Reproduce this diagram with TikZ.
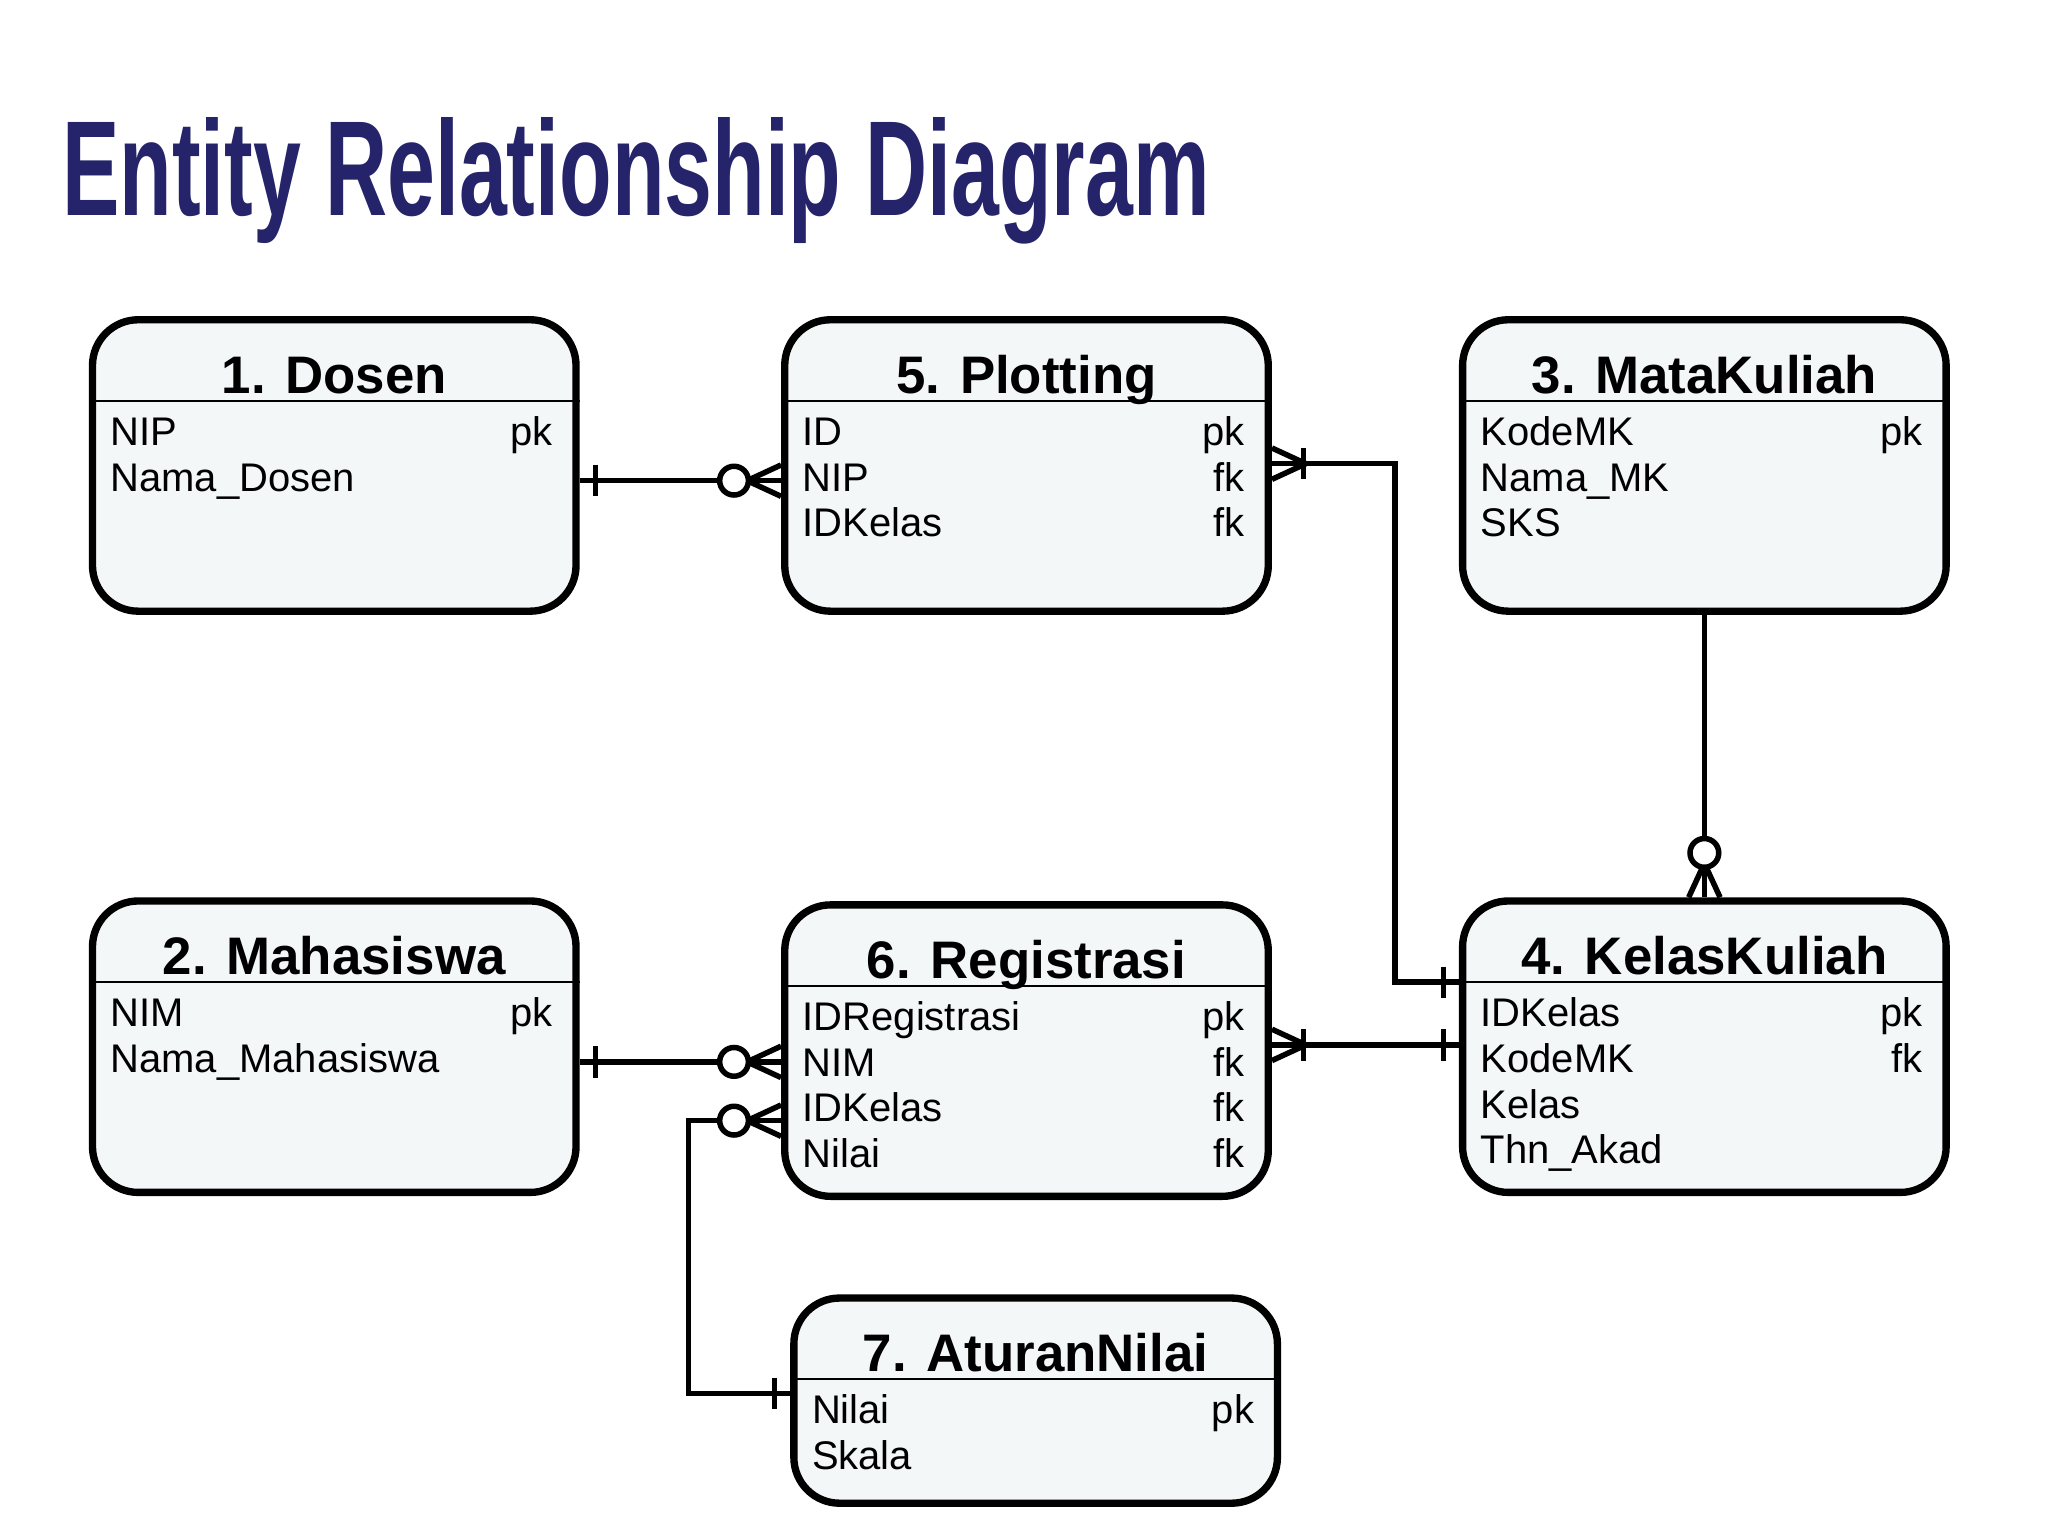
\documentclass[tikz,border=0pt]{standalone}
\usepackage{fontspec}
\setmainfont{Liberation Sans}
\usetikzlibrary{calc}
\definecolor{boxfill}{HTML}{F3F7F8}
\definecolor{navy}{HTML}{25246B}
\begin{document}
\begin{tikzpicture}[x=0.01cm,y=-0.01cm,
  box/.style={draw,line width=1.6pt,rounded corners=0.35cm,fill=boxfill,minimum width=3.7cm,anchor=north west,inner sep=0},
  con/.style={line width=1.2pt},
  ttl/.style={font=\fontsize{11.5}{12}\selectfont\bfseries,anchor=base},
  attr/.style={font=\fontsize{8.7}{10}\selectfont,anchor=base west,inner sep=0},
  akey/.style={font=\fontsize{8.7}{10}\selectfont,anchor=base east,inner sep=0}]
\useasboundingbox (0,0) rectangle (1568,1176);
\node[anchor=base west,inner sep=0,text=navy] (title) at (47,165) {\resizebox{8.78cm}{0.75cm}{\bfseries Entity Relationship Diagram}};
\newcommand\ent[5]{%
  \node[box,minimum height=#4cm] (#1) at (#2,#3) {};
  \draw[line width=0.5pt] ($(#1.north west)+(0,65)$) -- ($(#1.north east)+(0,65)$);
  \node[ttl] (#1t) at ($(#1.north)+(0,59)$) {#5};}
\newcommand\row[4]{%
  \node[attr] (#1a#2) at ($(#1.north west)+(16,99+35*#2)$) {#3};
  \node[akey] (#1k#2) at ($(#1.north east)+(-20,99+35*#2)$) {#4};}
\ent{dos}{68}{242}{2.23}{1. Dosen}
\row{dos}{0}{NIP}{pk}\row{dos}{1}{Nama\_Dosen}{}
\ent{plo}{598}{242}{2.23}{5. Plotting}
\row{plo}{0}{ID}{pk}\row{plo}{1}{NIP}{fk}\row{plo}{2}{IDKelas}{fk}
\ent{mk}{1117}{242}{2.23}{3. MataKuliah}
\row{mk}{0}{KodeMK}{pk}\row{mk}{1}{Nama\_MK}{}\row{mk}{2}{SKS}{}
\ent{mhs}{68}{687}{2.23}{2. Mahasiswa}
\row{mhs}{0}{NIM}{pk}\row{mhs}{1}{Nama\_Mahasiswa}{}
\ent{reg}{598}{690}{2.23}{6. Registrasi}
\row{reg}{0}{IDRegistrasi}{pk}\row{reg}{1}{NIM}{fk}\row{reg}{2}{IDKelas}{fk}\row{reg}{3}{Nilai}{fk}
\ent{kk}{1117}{687}{2.23}{4. KelasKuliah}
\row{kk}{0}{IDKelas}{pk}\row{kk}{1}{KodeMK}{fk}\row{kk}{2}{Kelas}{}\row{kk}{3}{Thn\_Akad}{}
\ent{an}{605}{991}{1.57}{7. AturanNilai}
\row{an}{0}{Nilai}{pk}\row{an}{1}{Skala}{}
\coordinate (c1a) at (dos.east |- 0,368); \coordinate (c1b) at (plo.west |- 0,368);
\coordinate (c2a) at (plo.east |- 0,355); \coordinate (c2m) at (1068,355); \coordinate (c2n) at (1068,752); \coordinate (c2b) at (kk.west |- 0,752);
\coordinate (c3a) at (mk.south); \coordinate (c3b) at (kk.north);
\coordinate (c4a) at (mhs.east |- 0,813); \coordinate (c4b) at (reg.west |- 0,813);
\coordinate (c5a) at (reg.east |- 0,800); \coordinate (c5b) at (kk.west |- 0,800);
\coordinate (c6a) at (reg.west |- 0,858); \coordinate (c6m) at (527,858); \coordinate (c6n) at (527,1067); \coordinate (c6b) at (an.west |- 0,1067);
\begin{scope}[con]
\draw (c1a) -- (c1b); \draw (c2a) -- (c2m) -- (c2n) -- (c2b); \draw (c3a) -- (c3b);
\draw (c4a) -- (c4b); \draw (c5a) -- (c5b); \draw (c6b) -- (c6n) -- (c6m) -- (c6a);
\draw ($(c1a)+(12,-12)$) -- ($(c1a)+(12,12)$);
\draw ($(c4a)+(12,-12)$) -- ($(c4a)+(12,12)$);
\draw ($(c2b)+(-12,-12)$) -- ($(c2b)+(-12,12)$);
\draw ($(c5b)+(-12,-12)$) -- ($(c5b)+(-12,12)$);
\draw ($(c6b)+(-12,-12)$) -- ($(c6b)+(-12,12)$);
\draw ($(c2a)+(24,-12)$) -- ($(c2a)+(24,12)$);
\draw ($(c5a)+(24,-12)$) -- ($(c5a)+(24,12)$);
\foreach \p in {c1b,c4b,c6a}{\draw ($(\p)+(-26,0)$) -- ($(\p)+(0,-12)$) ($(\p)+(-26,0)$) -- ($(\p)+(0,12)$);
  \draw[fill=white] ($(\p)+(-36,0)$) circle (0.11cm);}
\foreach \p in {c2a,c5a}{\draw ($(\p)+(26,0)$) -- ($(\p)+(0,-12)$) ($(\p)+(26,0)$) -- ($(\p)+(0,12)$);}
\draw ($(c3b)+(0,-26)$) -- ($(c3b)+(-12,0)$) ($(c3b)+(0,-26)$) -- ($(c3b)+(12,0)$);
\draw[fill=white] ($(c3b)+(0,-34)$) circle (0.11cm);
\end{scope}
\end{tikzpicture}
\end{document}
